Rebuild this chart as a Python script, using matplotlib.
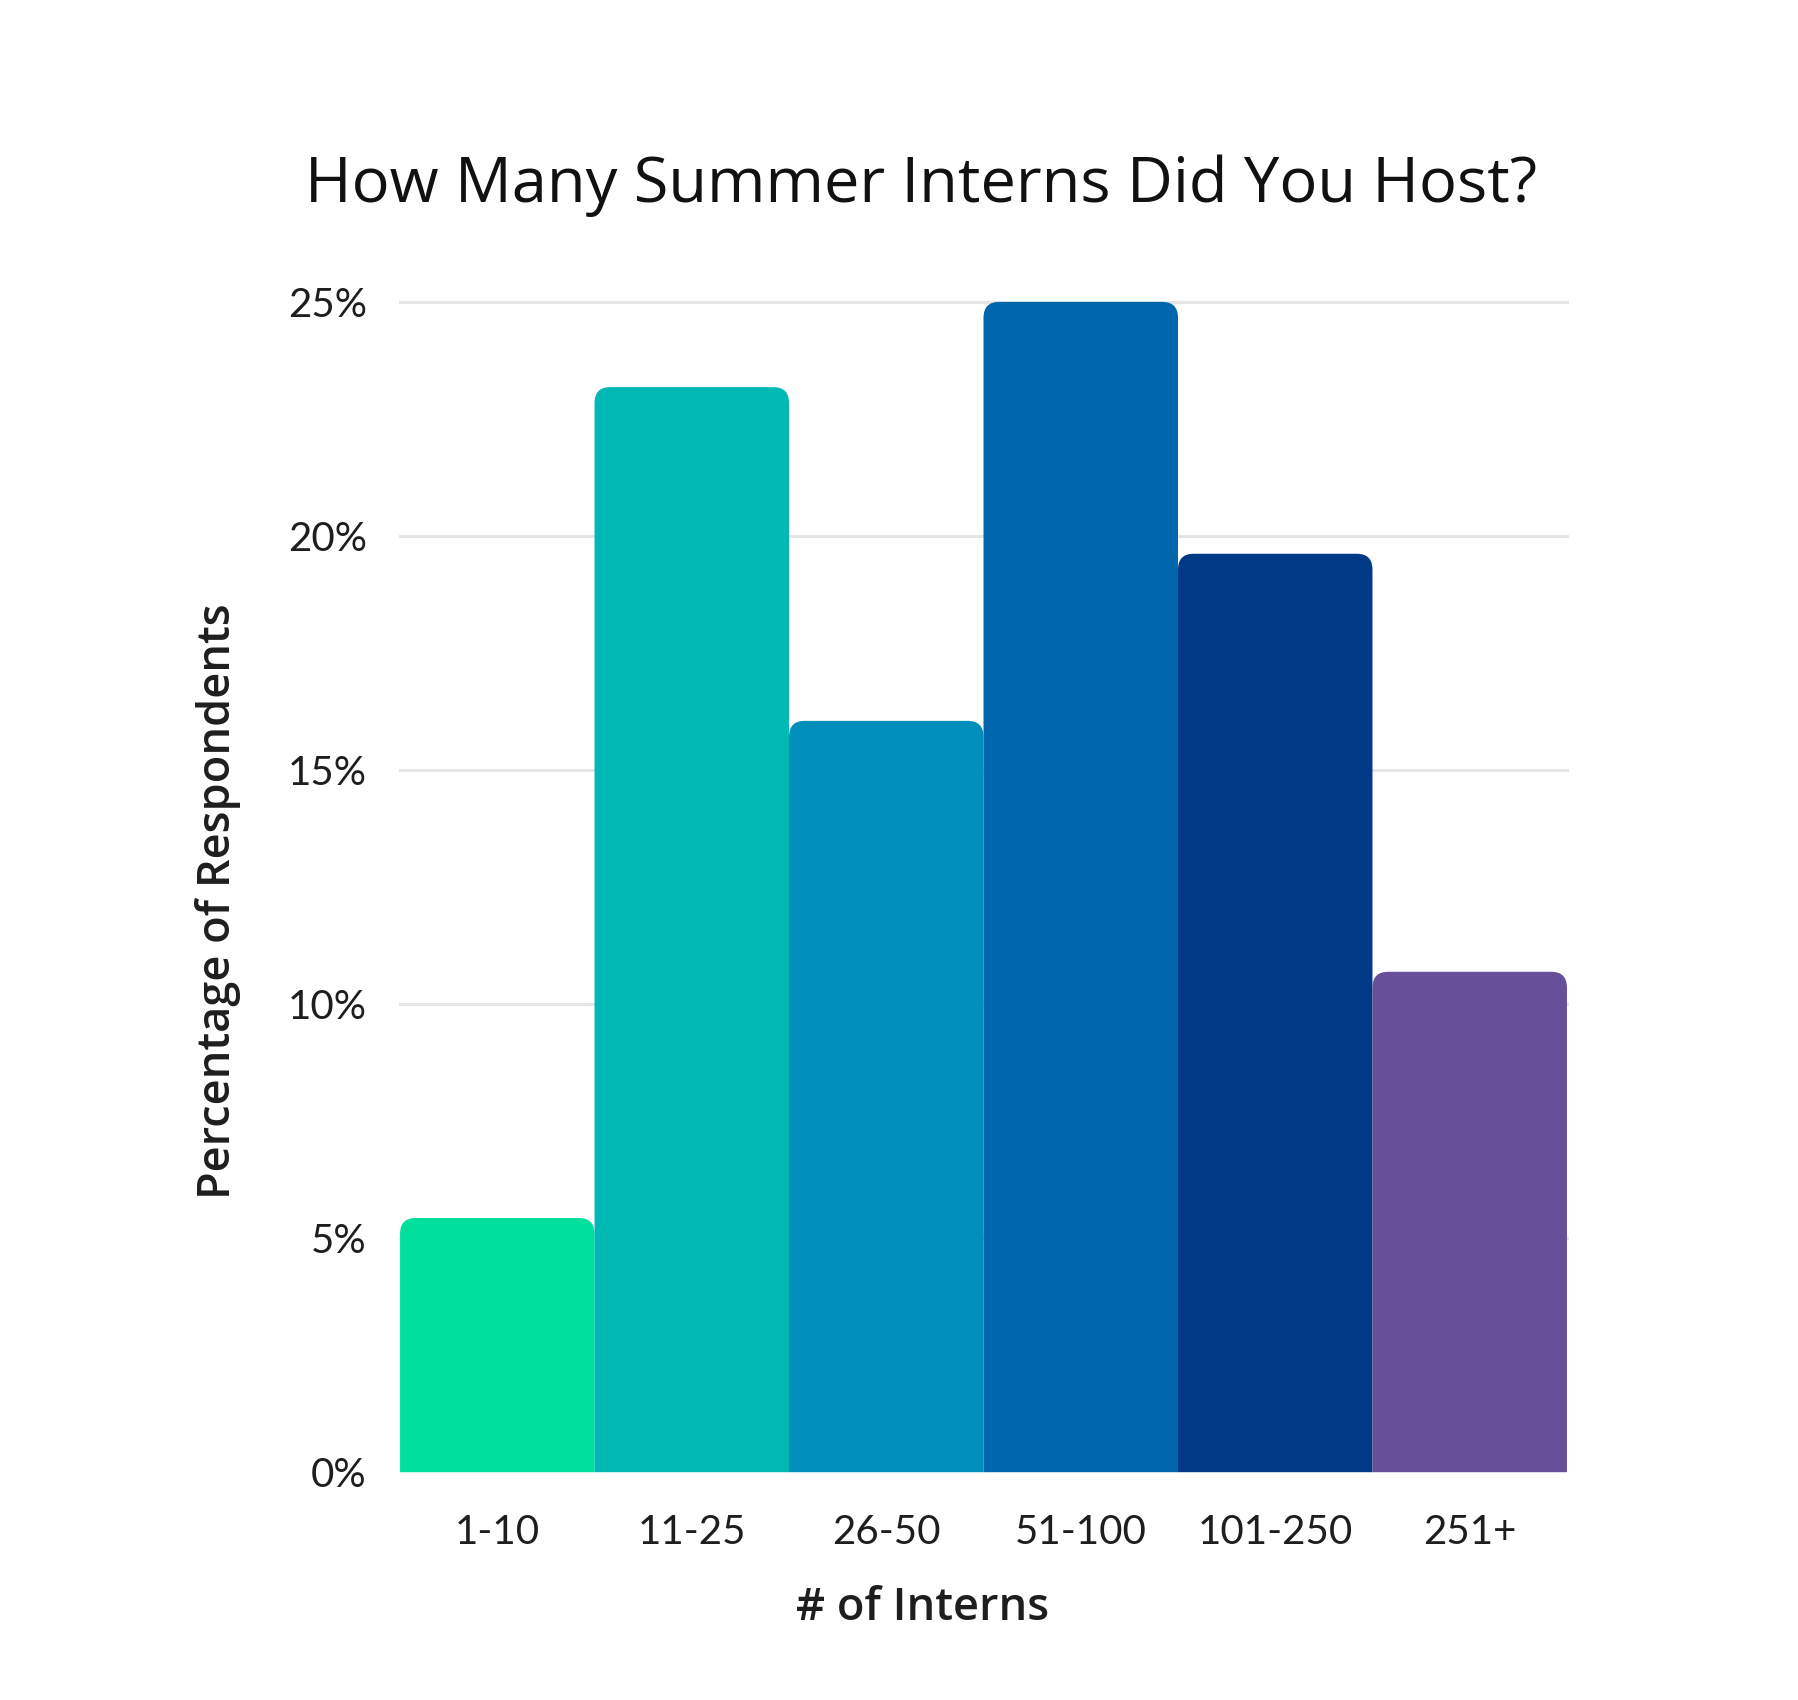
import matplotlib.pyplot as plt
from matplotlib.path import Path
from matplotlib.patches import PathPatch

categories = ["1-10", "11-25", "26-50", "51-100", "101-250", "251+"]
percent = [5.43, 23.18, 16.05, 25.0, 19.62, 10.69]
colors = ["#00DF9B", "#00B9B4", "#008FBB", "#0067AD", "#003A86", "#674F99"]
yticks = [0, 5, 10, 15, 20, 25]

plt.rcParams['font.family'] = ['Lato', 'DejaVu Sans']
txt = "#1e1e1e"
head_font = ['Open Sans', 'DejaVu Sans']

fig = plt.figure(figsize=(17.98, 17.0), dpi=100)
ax = fig.add_axes([0.2225, 0.134, 0.649, 0.6884])


def top_rounded_bar(x, h, w=1.0, rx=0.08, ry=0.34):
    x0, x1 = x - w / 2, x + w / 2
    verts = [(x0, 0), (x0, h - ry), (x0, h), (x0 + rx, h),
             (x1 - rx, h), (x1, h), (x1, h - ry), (x1, 0), (x0, 0)]
    codes = [Path.MOVETO, Path.LINETO, Path.CURVE3, Path.CURVE3,
             Path.LINETO, Path.CURVE3, Path.CURVE3, Path.LINETO, Path.CLOSEPOLY]
    return Path(verts, codes)


for i, (v, c) in enumerate(zip(percent, colors)):
    ax.add_patch(PathPatch(top_rounded_bar(i, v), facecolor=c, edgecolor='none',
                           zorder=3, clip_on=False))

for t in yticks[1:]:
    ax.axhline(t, color="#e5e5e5", linewidth=2.2, zorder=1, clip_on=False)

ax.set_xlim(-0.5, len(categories) - 0.5)
ax.set_ylim(0, 25)
ax.set_xticks(range(len(categories)))
ax.set_xticklabels(categories)
ax.set_yticks(yticks)
ax.set_yticklabels([f"{t}%" for t in yticks])
ax.tick_params(axis='both', length=0, labelsize=29, colors=txt)
ax.tick_params(axis='x', pad=30)
ax.tick_params(axis='y', pad=24)
for s in ax.spines.values():
    s.set_visible(False)

fig.text(0.512, 0.891, "How Many Summer Interns Did You Host?", ha='center', va='center',
         fontsize=45.5, color="#111111", family=head_font)
fig.text(0.513, 0.054, "# of Interns", ha='center', va='center',
         fontsize=32.5, fontweight='semibold', color=txt, family=head_font)
fig.text(0.121, 0.47, "Percentage of Respondents", ha='center', va='center',
         rotation=90, fontsize=32.5, fontweight='semibold', color=txt, family=head_font)

plt.savefig("out.png", dpi=100, facecolor='white')
